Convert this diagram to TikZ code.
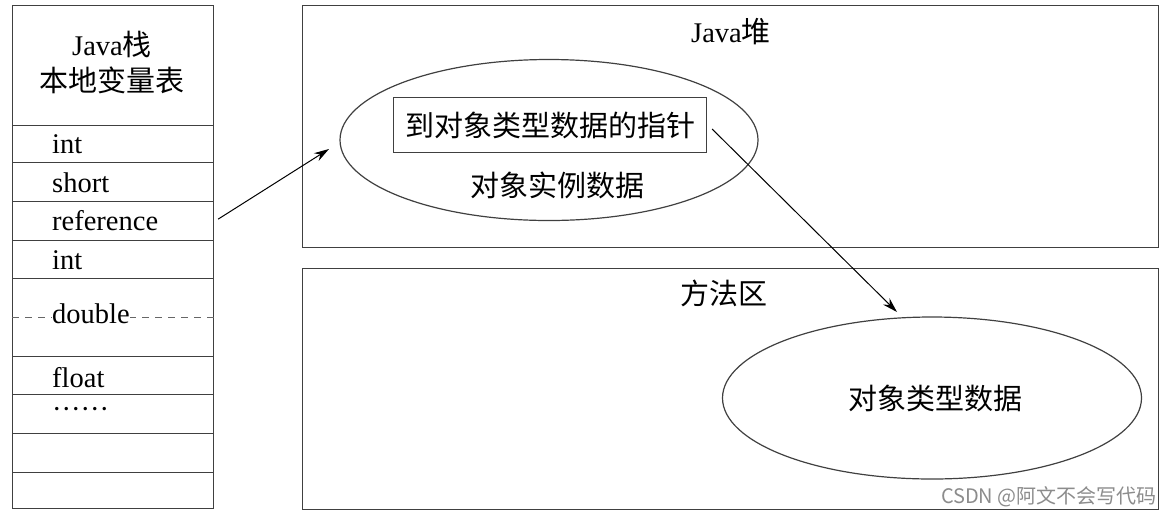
\documentclass[tikz,border=0pt]{standalone}
\usepackage{fontspec}
\setmainfont{Liberation Serif}
\newfontfamily\cjk{Noto Sans CJK SC}
\usetikzlibrary{shapes.geometric,arrows.meta}
\begin{document}
\begin{tikzpicture}[x=1pt,y=-1pt,
 frame/.style={draw=black!75,line width=1.2pt},
 cell/.style={frame,rectangle,anchor=north west,minimum width=201pt,inner sep=0},
 area/.style={frame,rectangle,anchor=north west,minimum width=856pt,inner sep=0},
 lbl/.style={font=\fontsize{28.5}{30}\selectfont,inner sep=0,anchor=base west},
 zh/.style={font=\fontsize{28.5}{30}\selectfont,inner sep=0},
 zhc/.style={font=\fontsize{29}{30}\selectfont\cjk,inner sep=0},
 oval/.style={frame,ellipse,inner sep=0},
 arr/.style={line width=1pt,-{Stealth[length=15pt,width=9pt]}}]
\useasboundingbox (0,0) rectangle (1172,515);
% stack
\node[cell,minimum height=120pt] (head) at (12,5) {};
\node[cell,minimum height=37pt] (r1) at (12,125) {};
\node[cell,minimum height=39pt] (r2) at (12,162) {};
\node[cell,minimum height=39pt] (r3) at (12,201) {};
\node[cell,minimum height=38pt] (r4) at (12,240) {};
\node[cell,minimum height=78pt] (r5) at (12,278) {};
\node[cell,minimum height=38pt] (r6) at (12,356) {};
\node[cell,minimum height=39pt] (r7) at (12,394) {};
\node[cell,minimum height=39pt] (r8) at (12,433) {};
\node[cell,minimum height=36pt] (r9) at (12,472) {};
\draw[draw=black!60,line width=0.9pt,dash pattern=on 7pt off 6pt] (r5.west) -- (r5.east);
\node[zh] (h1) at (112,44) {Java{\fontsize{29}{30}\selectfont\cjk 栈}};
\node[zhc] (h2) at (112,80) {本地变量表};
\node[lbl] (t1) at (52,153) {int};
\node[lbl] (t2) at (52,192) {short};
\node[lbl] (t3) at (52,230) {reference};
\node[lbl] (t4) at (52,269) {int};
\node[lbl,fill=white] (t5) at (52,323) {double};
\node[lbl] (t6) at (52,387) {float};
\node[lbl] (t7) at (52,418) {\textperiodcentered\textperiodcentered\textperiodcentered\textperiodcentered\textperiodcentered\textperiodcentered};
% heap
\node[area,minimum height=242pt] (heap) at (302,5) {};
\node[zh] (heapt) at (731,32) {Java{\fontsize{29}{30}\selectfont\cjk 堆}};
\node[oval,minimum width=418pt,minimum height=161pt] (obj) at (549,140) {};
\node[frame,rectangle,minimum width=313pt,minimum height=55pt,inner sep=0,font=\fontsize{29}{30}\selectfont\cjk] (ptr) at (550,125) {到对象类型数据的指针};
\node[zhc] (inst) at (557,185) {对象实例数据};
% method area
\node[area,minimum height=241pt] (meth) at (302,268) {};
\node[zhc] (metht) at (724,293) {方法区};
\node[oval,minimum width=419pt,minimum height=162pt] (typ) at (932,398) {};
\node[zhc] (typt) at (935,398) {对象类型数据};
% arrows
\coordinate (e1) at (329,149);
\coordinate (e2) at (897,312);
\draw[arr] ([shift={(4,-2)}]r3.east) -- (e1);
\draw[arr] ([shift={(5,4)}]ptr.east) -- (e2);
% watermark
\node[font=\fontsize{20}{22}\selectfont\cjk,text=black!45,anchor=east,inner sep=0] (wm) at (1157,497) {CSDN @阿文不会写代码};
\end{tikzpicture}
\end{document}
